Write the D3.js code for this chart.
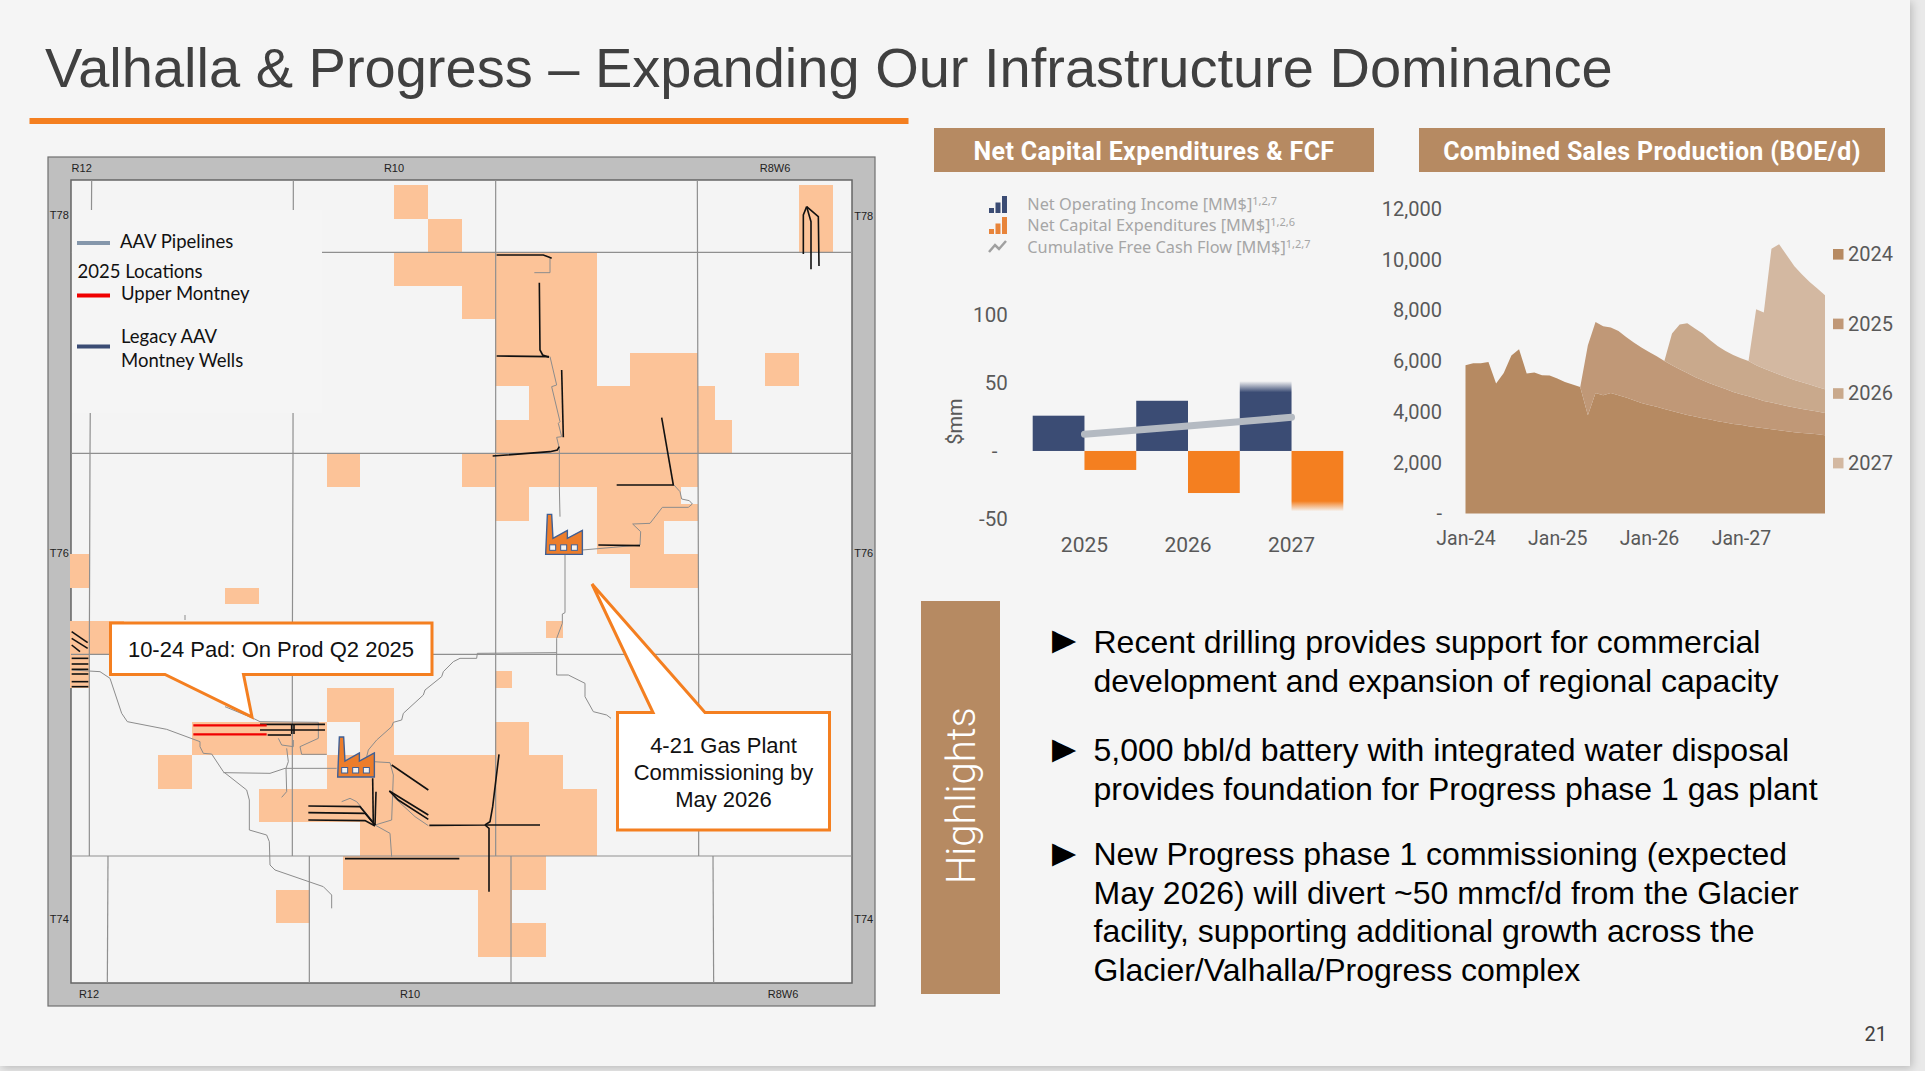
<!DOCTYPE html>
<html>
<head>
<meta charset="utf-8">
<script src="https://cdn.jsdelivr.net/npm/d3@7"></script>
<style>
  html, body { margin: 0; padding: 0; background: #e9e9e9; overflow: hidden; }
  svg { display: block; }
  .arial { font-family: "Liberation Sans", Arial, sans-serif; }
  .rob { font-family: Roboto, sans-serif; }
  .tick text { font-family: Roboto, sans-serif; fill: #595959; }
</style>
</head>
<body>
<svg id="slide" width="1925" height="1071"></svg>
<script>
// ---- capex chart ----
const capexYears = ["2025", "2026", "2027"];
const netOperatingIncome = [26, 37, 51.5];
const netCapex = [-14, -31, -44.5];
const cumulativeFcf = [12.3, 18.4, 24.8];
const capexTicks = [100, 50, 0, -50];

// ---- production chart, one value per month from Jan-24 ----
const prodSeries = ["2024", "2025", "2026", "2027"];
const prodTickLabels = ["Jan-24", "Jan-25", "Jan-26", "Jan-27"];
const prodTicks = [0, 2000, 4000, 6000, 8000, 10000, 12000];
const prod2024 = [5843, 5922, 5922, 5974, 5121, 5541, 6224, 6473, 5515, 5554, 5449, 5436,
  5318, 5186, 5082, 4989, 3873, 4753, 4661, 4753, 4661, 4569, 4464, 4359,
  4280, 4202, 4123, 4044, 3965, 3886, 3821, 3755, 3703, 3637, 3584, 3532,
  3493, 3440, 3401, 3361, 3322, 3283, 3243, 3204, 3177, 3151, 3125, 3086];
const prod2025 = [0, 0, 0, 0, 0, 0, 0, 0, 0, 0, 0, 0,
  0, 0, 0, 0, 2758, 2797, 2718, 2574, 2534, 2390, 2272, 2180,
  2088, 1995, 1891, 1799, 1720, 1655, 1562, 1497, 1418, 1379, 1327, 1260,
  1208, 1182, 1129, 1077, 1050, 1024, 998, 971, 946, 919, 893, 879];
const prod2026 = [0, 0, 0, 0, 0, 0, 0, 0, 0, 0, 0, 0,
  0, 0, 0, 0, 0, 0, 0, 0, 0, 0, 0, 0,
  0, 0, 0, 1247, 1760, 1956, 1904, 1838, 1707, 1575, 1496, 1458,
  1418, 1392, 1313, 1274, 1221, 1168, 1129, 1090, 1050, 1012, 971, 932];
const prod2027 = [0, 0, 0, 0, 0, 0, 0, 0, 0, 0, 0, 0,
  0, 0, 0, 0, 0, 0, 0, 0, 0, 0, 0, 0,
  0, 0, 0, 0, 0, 0, 0, 0, 0, 0, 0, 0,
  0, 0, 2206, 2205, 4845, 5134, 4806, 4477, 4241, 4043, 3874, 3703];

// ---- map: land blocks as [col, row, cols wide, rows high], in sections ----
const landBlocks = [
  [0, 0, 1, 1], [1, 1, 1, 1], [0, 2, 6, 1], [2, 3, 4, 1], [3, 4, 3, 1], [3, 5, 3, 1], [7, 5, 2, 1],
  [4, 6, 5.5, 1], [3, 7, 7, 1], [2, 8, 7, 1], [-2, 8, 1, 1], [3, 9, 1, 1], [6, 9, 2.5, 0.5], [6, 9.5, 3, 0.5],
  [6, 10, 2, 1], [7, 11, 2, 1], [12, 0, 1, 2], [11, 5, 1, 1],
  [4.5, 13, 0.5, 0.5], [3, 14.5, 0.5, 0.5], [3, 16, 1, 1], [-2, 15, 2, 1], [-6, 16, 4, 1], [-1, 16, 1, 1],
  [-7, 17, 1, 1], [-2, 17, 7, 1], [-4, 18, 10, 1], [-1, 19, 7, 1], [-1.5, 20, 6, 1],
  [2.5, 21, 1, 1], [2.5, 22, 2, 1], [-3.5, 21, 1, 1], [-5, 12, 1, 0.5],
  [-9.6, 11, 0.55, 1], [-9.6, 13, 1.6, 1], [-9.6, 14, 0.55, 1]
];

// ---- map: everything below in map units, 100 units are about one section ----
const townshipLines = [
  [[0, 217], [2343, 217]], [[0, 820], [2343, 820]], [[0, 1423], [2343, 1423]], [[0, 2028], [2343, 2028]]
];
const rangeLines = [
  [[62, 0], [57, 820], [55, 1423], [55, 2028]], [[667, 0], [666, 820], [664, 1423], [664, 2028]],
  [[1274, 0], [1274, 2028]], [[1879, 0], [1881, 820], [1883, 1423], [1883, 2028]],
  [[111, 2028], [109, 2409]], [[715, 2028], [715, 2409]], [[1320, 2028], [1320, 2409]], [[1926, 2028], [1928, 2409]]
];
const pipelines = [
  [[1390, 278], [1437, 278], [1437, 235]],
  [[1437, 530], [1457, 615], [1442, 620], [1467, 725], [1462, 730], [1472, 770], [1457, 772], [1465, 805], [1465, 920], [1467, 1010]],
  [[1482, 1125], [1482, 1298], [1474, 1302], [1474, 1330], [1457, 1375], [1457, 1485], [1492, 1485], [1542, 1510], [1542, 1550], [1567, 1595], [1607, 1605], [1620, 1615]],
  [[1534, 1110], [1707, 1095], [1709, 1055], [1685, 1032], [1737, 1030], [1774, 982], [1852, 982], [1864, 972], [1855, 962], [1832, 957], [1827, 935], [1809, 915]],
  [[1457, 1418], [1219, 1420], [1217, 1435], [1167, 1435], [1147, 1445], [1117, 1475], [1112, 1490], [1062, 1530], [1057, 1545], [997, 1600], [992, 1620], [967, 1627], [962, 1640], [917, 1680], [892, 1710], [887, 1730]],
  [[2, 1470], [87, 1475], [117, 1495], [152, 1600], [169, 1625], [287, 1648], [387, 1685], [387, 1700], [397, 1720], [422, 1722], [457, 1775], [527, 1830], [535, 1860], [535, 1950], [587, 1965], [595, 1985], [597, 2055], [612, 2070], [757, 2120], [782, 2145], [782, 2185]],
  [[457, 1778], [597, 1780], [642, 1765], [797, 1765]],
  [[647, 1705], [652, 1745], [645, 1765], [647, 1835], [632, 1852]],
  [[462, 1580], [547, 1615], [567, 1625], [742, 1627], [742, 1675], [687, 1700], [692, 1723], [767, 1723]],
  [[622, 1675], [632, 1695], [667, 1700], [667, 1680]],
  [[342, 1305], [342, 1320]],
  [[907, 1745], [957, 1748], [967, 1785], [962, 1920], [912, 1935], [957, 1960], [962, 2030]],
  [[812, 1865], [837, 1855], [857, 1865], [907, 1925]],
  [[967, 1850], [1032, 1910], [1072, 1937]]
];
const legacyWells = [
  [[1277, 225], [1417, 225], [1435, 232], [1442, 235]],
  [[1405, 308], [1407, 510], [1415, 525], [1434, 532]],
  [[1277, 528], [1434, 530]], [[1472, 570], [1477, 772]],
  [[1265, 828], [1437, 815], [1459, 810], [1465, 800]],
  [[1772, 713], [1807, 915]], [[1637, 915], [1809, 915]], [[1582, 1095], [1707, 1097]],
  [[2197, 222], [2197, 105], [2207, 80]], [[2207, 80], [2220, 125], [2220, 268]], [[2207, 80], [2242, 110], [2244, 258]],
  [[2, 1355], [50, 1388]], [[2, 1375], [50, 1405]], [[2, 1395], [27, 1415]],
  [[2, 1435], [52, 1435]], [[2, 1452], [52, 1452]], [[2, 1468], [52, 1468]], [[2, 1482], [52, 1482]], [[2, 1505], [52, 1505]], [[2, 1520], [52, 1520]],
  [[567, 1633], [762, 1633]], [[567, 1650], [762, 1650]], [[590, 1665], [660, 1665]], [[662, 1635], [662, 1662]], [[669, 1635], [669, 1662]],
  [[905, 1795], [907, 1935]], [[915, 1835], [912, 1935]],
  [[712, 1878], [867, 1880], [912, 1935]], [[712, 1898], [882, 1900], [912, 1935]], [[712, 1920], [882, 1922], [912, 1938]],
  [[962, 1755], [1072, 1830]], [[955, 1833], [1072, 1905]], [[955, 1833], [982, 1860], [1072, 1918]],
  [[1075, 1936], [1242, 1935], [1257, 1925], [1265, 1880], [1284, 1723]],
  [[1242, 1935], [1407, 1935]], [[1242, 1935], [1254, 1945], [1254, 2135]],
  [[822, 2036], [1165, 2036]]
];
const upperMontneyWells = [
  [[367, 1636], [587, 1636]], [[367, 1663], [587, 1663]]
];
const plantSites = [[1424, 1003], [800, 1671]];

const highlights = [
  ["Recent drilling provides support for commercial", "development and expansion of regional capacity"],
  ["5,000 bbl/d battery with integrated water disposal", "provides foundation for Progress phase 1 gas plant"],
  ["New Progress phase 1 commissioning (expected", "May 2026) will divert ~50 mmcf/d from the Glacier", "facility, supporting additional growth across the", "Glacier/Valhalla/Progress complex"]
];

const tan = "#b68a62";
const orange = "#f47f20";
const navy = "#3b4c74";
const svg = d3.select("#slide");

// slide background and title
svg.append("rect").attr("width", 1910).attr("height", 1066).attr("fill", "#f5f5f5")
  .style("filter", "drop-shadow(2px 2px 4px rgba(0,0,0,0.2))");
svg.append("text").attr("class", "arial").attr("x", 45).attr("y", 87)
  .attr("font-size", 56).attr("fill", "#404040")
  .text("Valhalla & Progress – Expanding Our Infrastructure Dominance");
svg.append("rect").attr("x", 29.5).attr("y", 118).attr("width", 879).attr("height", 6).attr("fill", orange);

// ======== map ========
const map = svg.append("g");
const mapX = d3.scaleLinear().domain([0, 2343]).range([71, 852]);
const mapY = d3.scaleLinear().domain([0, 2409]).range([180, 983]);
const secX = d3.scaleLinear().domain([0, 1]).range([394, 427.75]);
const secY = d3.scaleLinear().domain([0, 1]).range([185, 218.55]);
const mapLine = d3.line().x(d => mapX(d[0])).y(d => mapY(d[1]));

map.append("rect").attr("x", 48).attr("y", 157).attr("width", 827).attr("height", 849)
  .attr("fill", "#bfbfbf").attr("stroke", "#707070").attr("stroke-width", 1.2);
map.append("rect").attr("x", 71).attr("y", 180).attr("width", 781).attr("height", 803)
  .attr("fill", "#f4f4f4").attr("stroke", "#666").attr("stroke-width", 1.5);

map.selectAll("rect.land").data(landBlocks).join("rect").attr("class", "land")
  .attr("x", d => secX(d[0])).attr("y", d => secY(d[1]))
  .attr("width", d => secX(d[0] + d[2]) - secX(d[0]))
  .attr("height", d => secY(d[1] + d[3]) - secY(d[1]))
  .attr("fill", "#fcc398").attr("shape-rendering", "crispEdges");

const drawLines = (cls, rows, colour, width) => map.selectAll("path." + cls).data(rows).join("path")
  .attr("class", cls).attr("d", mapLine).attr("fill", "none")
  .attr("stroke", colour).attr("stroke-width", width);

drawLines("grid", townshipLines.concat(rangeLines), "#8f8f8f", 1.2);
drawLines("pipe", pipelines, "#8c8c8c", 1);
drawLines("well", legacyWells, "#111", 1.6);
drawLines("upper", upperMontneyWells, "#f00000", 2.3);

// map legend sits on a plain panel which hides the grid
map.append("rect").attr("x", 72).attr("y", 210).attr("width", 250).attr("height", 203).attr("fill", "#f5f5f5");
const legendRows = [
  ["AAV Pipelines", 120, 248], ["2025 Locations", 77.5, 278], ["Upper Montney", 121, 300],
  ["Legacy AAV", 121, 343], ["Montney Wells", 121, 367]
];
map.selectAll("text.mapkey").data(legendRows).join("text").attr("class", "mapkey")
  .attr("x", d => d[1]).attr("y", d => d[2]).text(d => d[0])
  .attr("font-family", "Lato, sans-serif").attr("font-size", 18.5).attr("fill", "#111");
[[243, "#8597ab"], [295.5, "#f00000"], [346.5, navy]].forEach(([y, c]) => {
  map.append("rect").attr("x", 77).attr("y", y - 2).attr("width", 33).attr("height", 4).attr("fill", c);
});

// township and range labels on the frame
const frameLabels = [
  ["R12", 81.7, 172], ["R10", 394, 172], ["R8W6", 775, 172], ["R12", 89, 998], ["R10", 410, 998], ["R8W6", 783, 998],
  ["T78", 59.3, 219], ["T76", 59.3, 557], ["T74", 59.3, 923], ["T78", 863.7, 220], ["T76", 863.7, 557], ["T74", 863.7, 923]
];
map.selectAll("text.frame").data(frameLabels).join("text").attr("class", "frame arial")
  .attr("x", d => d[1]).attr("y", d => d[2]).text(d => d[0])
  .attr("text-anchor", "middle").attr("font-size", 11).attr("fill", "#222");

// gas plant icons
const plant = map.selectAll("g.plant").data(plantSites).join("g").attr("class", "plant")
  .attr("transform", d => `translate(${mapX(d[0])},${mapY(d[1])})`);
plant.append("path").attr("d", "M0,40 L1.7,0 L6,0 L7.3,24 L21.7,16 L21.7,24 L36.7,16 L36.7,40 Z")
  .attr("fill", "#ec7d2b").attr("stroke", "#3f5f95").attr("stroke-width", 1.4);
plant.selectAll("rect").data([4, 15, 25.7]).join("rect")
  .attr("x", d => d).attr("y", 30.5).attr("width", 6).attr("height", 5.5)
  .attr("fill", "#f2f2f2").attr("stroke", "#3f5f95").attr("stroke-width", 1);

// callouts
const callout = (d, lines) => {
  map.append("path").attr("d", d).attr("fill", "#fff").attr("stroke", orange).attr("stroke-width", 3);
  map.selectAll(null).data(lines).join("text").attr("class", "arial")
    .attr("x", l => l[1]).attr("y", l => l[2]).text(l => l[0])
    .attr("text-anchor", "middle").attr("font-size", 22).attr("fill", "#111");
};
callout("M110.5,623 H432 V674.5 H243.5 L252,717 L165,674.5 H110.5 Z", [["10-24 Pad: On Prod Q2 2025", 271, 657]]);
callout("M617.5,712.5 H653 L592,584 L705,712.5 H829.5 V830 H617.5 Z",
  [["4-21 Gas Plant", 723.5, 753], ["Commissioning by", 723.5, 780], ["May 2026", 723.5, 806.5]]);

// ======== capex chart ========
const header = (x, w, label) => {
  svg.append("rect").attr("x", x).attr("y", 128).attr("width", w).attr("height", 44).attr("fill", tan);
  svg.append("text").attr("class", "rob").attr("x", x + w / 2).attr("y", 159.5)
    .attr("text-anchor", "middle").attr("font-size", 25).attr("letter-spacing", 0.35)
    .attr("font-weight", 700).attr("fill", "#fff").text(label);
};
header(934, 440, "Net Capital Expenditures & FCF");
header(1419, 466, "Combined Sales Production (BOE/d)");

const capex = svg.append("g");
const capexX = d3.scaleBand().domain(capexYears).range([1032.7, 1343.3]);
const capexY = d3.scaleLinear().domain([-50, 100]).range([518.8, 315.3]);

const defs = svg.append("defs");
const fade = (id, colour, y1, y2, at) => {
  const g = defs.append("linearGradient").attr("id", id).attr("x1", 0).attr("x2", 0).attr("y1", y1).attr("y2", y2);
  g.append("stop").attr("offset", at).attr("stop-color", colour);
  g.append("stop").attr("offset", 1).attr("stop-color", colour).attr("stop-opacity", 0);
};
fade("fadeNavy", navy, 1, 0, 0.84);
fade("fadeOrange", orange, 0, 1, 0.83);

capex.selectAll("rect.noi").data(netOperatingIncome).join("rect").attr("class", "noi")
  .attr("x", (d, i) => capexX(capexYears[i]))
  .attr("y", d => capexY(d))
  .attr("width", capexX.bandwidth() / 2)
  .attr("height", d => capexY(0) - capexY(d))
  .attr("fill", (d, i) => i === 2 ? "url(#fadeNavy)" : navy);
capex.selectAll("rect.cap").data(netCapex).join("rect").attr("class", "cap")
  .attr("x", (d, i) => capexX(capexYears[i]) + capexX.bandwidth() / 2)
  .attr("y", capexY(0))
  .attr("width", capexX.bandwidth() / 2)
  .attr("height", d => capexY(d) - capexY(0))
  .attr("fill", (d, i) => i === 2 ? "url(#fadeOrange)" : orange);
capex.append("path").datum(cumulativeFcf)
  .attr("d", d3.line().x((d, i) => capexX(capexYears[i]) + capexX.bandwidth() / 2).y(d => capexY(d)))
  .attr("fill", "none").attr("stroke", "#b4bac2").attr("stroke-width", 7).attr("stroke-linecap", "round");

capex.append("g").attr("transform", "translate(1007.7,0)")
  .call(d3.axisLeft(capexY).tickValues(capexTicks).tickSize(0).tickPadding(0)
    .tickFormat(d => d === 0 ? "-\u00a0\u00a0" : d))
  .call(g => g.select(".domain").remove())
  .selectAll("text").attr("font-size", 20.5);
capex.append("g").attr("transform", "translate(0,530.5)")
  .call(d3.axisBottom(capexX).tickSize(0).tickPadding(0))
  .call(g => g.select(".domain").remove())
  .selectAll("text").attr("font-size", 21).attr("dy", "1em");
capex.append("text").attr("class", "rob").attr("transform", "translate(962,421.7) rotate(-90)")
  .attr("text-anchor", "middle").attr("font-size", 20).attr("fill", "#595959").text("$mm");

const keyRows = [
  ["Net Operating Income [MM$]", "1,2,7", 210.2],
  ["Net Capital Expenditures [MM$]", "1,2,6", 231],
  ["Cumulative Free Cash Flow [MM$]", "1,2,7", 253]
];
const keyText = capex.selectAll("text.key").data(keyRows).join("text").attr("class", "key")
  .attr("x", 1027.3).attr("y", d => d[2])
  .attr("font-family", "'Noto Sans', sans-serif").attr("font-size", 16.3).attr("fill", "#a6a6a6");
keyText.append("tspan").text(d => d[0]);
keyText.append("tspan").attr("dy", -5.5).attr("font-size", 11).text(d => d[1]);
[[213, navy], [234, "#e8843a"]].forEach(([base, c]) => {
  [[989, 5], [995.5, 10.5], [1002, 17]].forEach(([x, h]) => {
    capex.append("rect").attr("x", x).attr("y", base - h).attr("width", 5).attr("height", h).attr("fill", c);
  });
});
capex.append("path").attr("d", "M989,252 L995,245 L999,249 L1006,241").attr("fill", "none")
  .attr("stroke", "#a0a0a0").attr("stroke-width", 2.5);

// ======== production chart ========
const prod = svg.append("g");
const prodX = d3.scaleLinear().domain([0, 47]).range([1465.5, 1825]);
const prodY = d3.scaleLinear().domain([0, 12000]).range([513.5, 209]);
const prodColour = d3.scaleOrdinal().domain(prodSeries).range(["#b68a62", "#c09877", "#c9a98c", "#d3b8a1"]);

const prodRows = prod2024.map((v, i) => ({ "2024": v, "2025": prod2025[i], "2026": prod2026[i], "2027": prod2027[i] }));
const stacked = d3.stack().keys(prodSeries)(prodRows);
const prodArea = d3.area().x((d, i) => prodX(i)).y0(d => prodY(d[0])).y1(d => prodY(d[1]));
prod.selectAll("path.layer").data(stacked).join("path").attr("class", "layer")
  .attr("d", prodArea).attr("fill", d => prodColour(d.key));

prod.append("g").attr("transform", "translate(1442,0)")
  .call(d3.axisLeft(prodY).tickValues(prodTicks).tickSize(0).tickPadding(0)
    .tickFormat(d => d === 0 ? "-" : d3.format(",")(d)))
  .call(g => g.select(".domain").remove())
  .selectAll("text").attr("font-size", 20);
prod.append("g").attr("transform", "translate(0,529)")
  .call(d3.axisBottom(prodX).tickValues([0, 12, 24, 36]).tickSize(0).tickPadding(0)
    .tickFormat((d, i) => prodTickLabels[i]))
  .call(g => g.select(".domain").remove())
  .selectAll("text").attr("font-size", 19.5).attr("dy", "0.8em");

const prodKey = prod.selectAll("g.key").data(prodSeries).join("g").attr("class", "key")
  .attr("transform", (d, i) => `translate(1833,${254.3 + i * 69.6})`);
prodKey.append("rect").attr("y", -5.3).attr("width", 10.5).attr("height", 10.6).attr("fill", d => prodColour(d));
prodKey.append("text").attr("class", "rob").attr("x", 15).attr("y", 6.8)
  .attr("font-size", 20).attr("fill", "#595959").text(d => d);

// ======== highlights ========
svg.append("rect").attr("x", 921).attr("y", 601).attr("width", 79).attr("height", 393).attr("fill", tan);
svg.append("text").attr("transform", "translate(975,884) rotate(-90)")
  .attr("font-family", "Roboto, sans-serif").attr("font-weight", 300)
  .attr("font-size", 40).attr("fill", "#fff").text("Highlights");

const bulletTops = [652.7, 761, 865.3];
const lineStep = [38.8, 38.8, 38.5];
highlights.forEach((lines, b) => {
  svg.append("text").attr("transform", `translate(1052,${bulletTops[b] + 1.6}) scale(1.12,1.65)`)
    .attr("font-family", "'DejaVu Sans', sans-serif").attr("font-size", 28).attr("fill", "#000").text("►");
  svg.selectAll(null).data(lines).join("text").attr("class", "arial")
    .attr("x", 1093.5).attr("y", (d, i) => bulletTops[b] + i * lineStep[b])
    .attr("font-size", 32).attr("fill", "#000").text(d => d);
});

svg.append("text").attr("class", "rob").attr("x", 1887).attr("y", 1041).attr("text-anchor", "end")
  .attr("font-size", 20).attr("fill", "#404040").text("21");
</script>
</body>
</html>
